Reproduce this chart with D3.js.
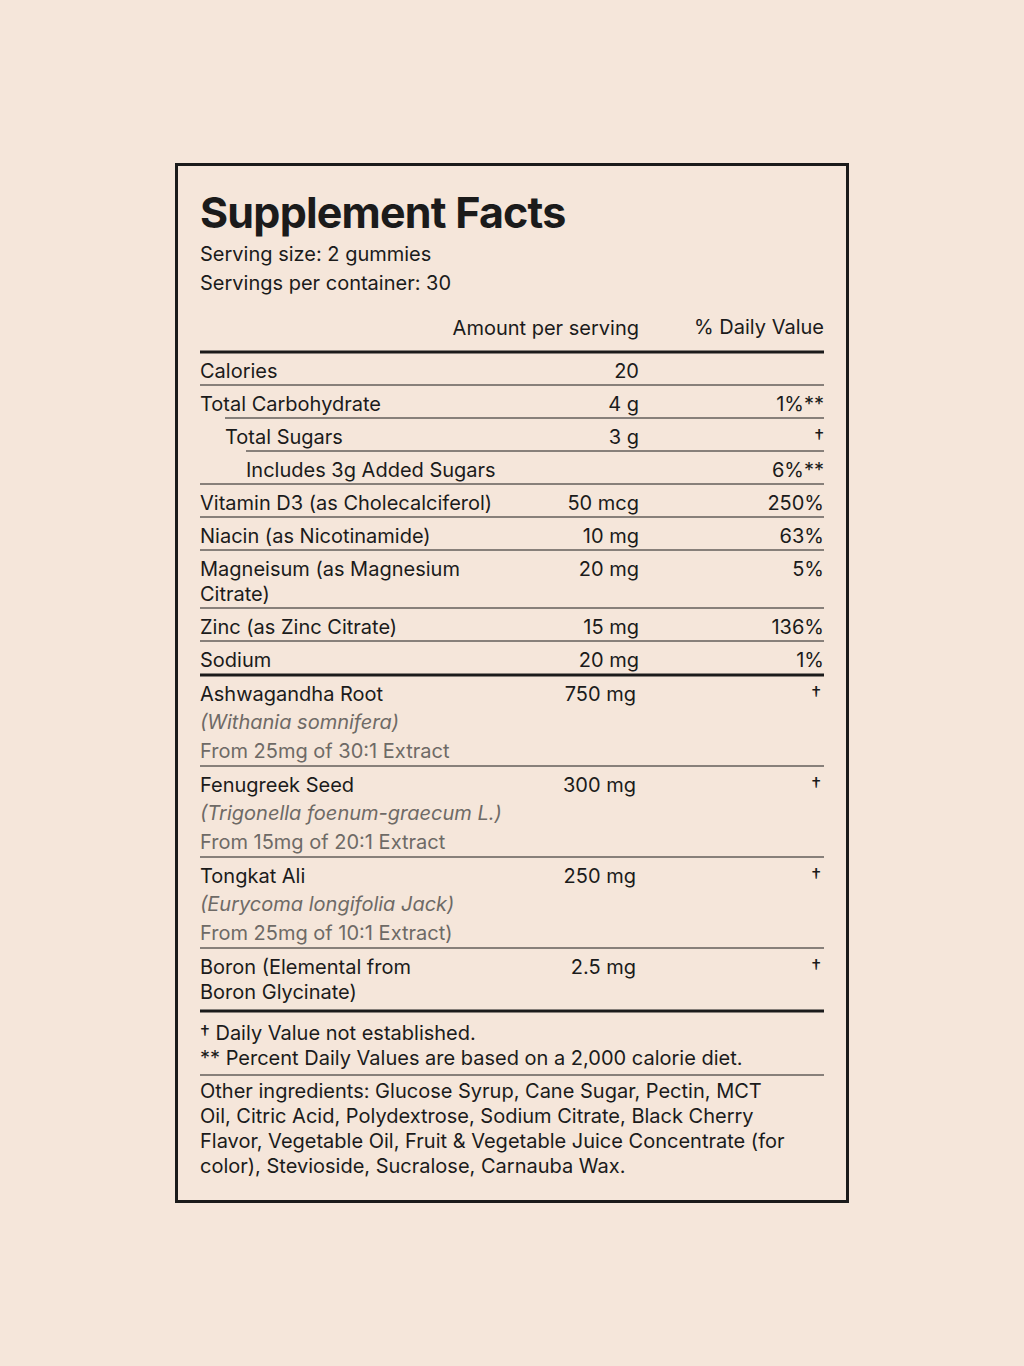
<!DOCTYPE html>
<html><head><meta charset="utf-8">
<script src="https://cdn.jsdelivr.net/npm/d3@7"></script>
<style>body{margin:0;background:#f5e6da}svg{display:block}</style>
</head><body>
<script>
const nutrients = ["Calories","Total Carbohydrate","Total Sugars","Includes 3g Added Sugars","Vitamin D3 (as Cholecalciferol)","Niacin (as Nicotinamide)","Magneisum (as Magnesium|Citrate)","Zinc (as Zinc Citrate)","Sodium"];
const nutrientAmounts = ["20","4 g","3 g","","50 mcg","10 mg","20 mg","15 mg","20 mg"];
const nutrientDV = ["","1%**","†","6%**","250%","63%","5%","136%","1%"];
const nutrientLevel = [0,0,1,2,0,0,0,0,0];
const herbs = ["Ashwagandha Root","Fenugreek Seed","Tongkat Ali","Boron (Elemental from|Boron Glycinate)"];
const herbLatin = ["(Withania somnifera)","(Trigonella foenum-graecum L.)","(Eurycoma longifolia Jack)",""];
const herbExtract = ["From 25mg of 30:1 Extract","From 15mg of 20:1 Extract","From 25mg of 10:1 Extract)",""];
const herbAmounts = ["750 mg","300 mg","250 mg","2.5 mg"];
const herbDV = ["†","†","†","†"];
const footnotes = ["† Daily Value not established.","** Percent Daily Values are based on a 2,000 calorie diet."];
const otherIngredients = ["Other ingredients: Glucose Syrup, Cane Sugar, Pectin, MCT","Oil, Citric Acid, Polydextrose, Sodium Citrate, Black Cherry","Flavor, Vegetable Oil, Fruit & Vegetable Juice Concentrate (for","color), Stevioside, Sucralose, Carnauba Wax."];

const W=1024,H=1366,ink="#1b1b1b",gray="#6e6a66";
const svg=d3.select("body").append("svg").attr("width",W).attr("height",H);
svg.append("rect").attr("width",W).attr("height",H).attr("fill","#f5e6da");
svg.append("rect").attr("x",176.5).attr("y",164.5).attr("width",671).attr("height",1037).attr("fill","none").attr("stroke",ink).attr("stroke-width",3);
const L=200,R=824,A=639;
const font="Inter, 'Noto Sans', sans-serif";
function t(x,y,s,o={}){return svg.append("text").attr("x",x).attr("y",y).text(s).attr("font-family",font).attr("font-size",o.size||20).attr("fill",o.fill||ink).attr("font-weight",o.weight||400).attr("font-style",o.style||"normal").attr("text-anchor",o.anchor||"start");}
function line(x1,x2,y,w){svg.append("line").attr("x1",x1).attr("x2",x2).attr("y1",y).attr("y2",y).attr("stroke",ink).attr("stroke-width",w||1);}
t(L,228,"Supplement Facts",{size:43,weight:700}).attr("letter-spacing",-0.8);
t(L,261,"Serving size: 2 gummies");
t(L,290,"Servings per container: 30");
t(A,335,"Amount per serving",{anchor:"end"});
t(R,334,"% Daily Value",{anchor:"end"});
line(L,R,352,3);
let y=352;
const indent=[0,25,46];
nutrients.forEach((n,i)=>{
  const parts=n.split("|");
  const x=L+indent[nutrientLevel[i]];
  parts.forEach((p,k)=>t(x,y+26+k*25,p));
  t(A,y+26,nutrientAmounts[i],{anchor:"end"});
  t(R,y+26,nutrientDV[i],{anchor:"end"});
  y+=33+(parts.length-1)*25;
  const nextLevel=i+1<nutrients.length?nutrientLevel[i+1]:0;
  if(i===nutrients.length-1){y+=1;line(L,R,y,3);}
  else line(L+indent[nextLevel],R,y,1);
});
herbs.forEach((n,i)=>{
  const parts=n.split("|");
  t(L,y+26,parts[0]); if(parts[1]) t(L,y+51,parts[1]);
  t(A-3,y+26,herbAmounts[i],{anchor:"end"});
  t(R-3,y+26,herbDV[i],{anchor:"end"});
  if(herbLatin[i]){t(L,y+54,herbLatin[i],{fill:gray,style:"italic"});t(L,y+83,herbExtract[i],{fill:gray});y+=91;line(L,R,y,1);}
  else {y+=63;line(L,R,y,3);}
});
y=1015;
footnotes.forEach((f,k)=>t(L,y+25+k*25,f));
line(L,R,1075,1);
otherIngredients.forEach((f,k)=>t(L,1098+k*25,f));
</script>
</body></html>
